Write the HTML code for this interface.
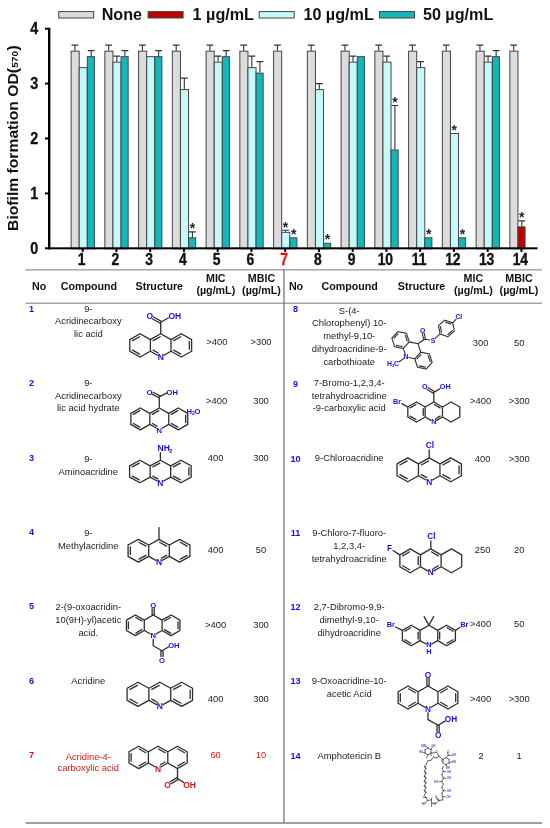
<!DOCTYPE html>
<html lang="en"><head><meta charset="utf-8"><title>Biofilm formation and acridine compounds</title>
<style>
html,body{margin:0;padding:0;background:#fff;}
body{width:550px;height:828px;overflow:hidden;}
svg{display:block;font-family:"Liberation Sans",Arial,Helvetica,sans-serif;}
</style></head><body>
<svg width="550" height="828" viewBox="0 0 550 828">
<rect width="550" height="828" fill="#fff"/>
<g id="chart">
<rect x="71.1" y="51.16" width="8.1" height="197.64" fill="#dcdcdc" stroke="#444444" stroke-width="1"/>
<rect x="79.2" y="67.63" width="8.1" height="181.17" fill="#c6f9fa" stroke="#444444" stroke-width="1"/>
<rect x="87.3" y="56.65" width="7.1" height="192.15" fill="#10b8bc" stroke="#444444" stroke-width="1"/>
<path d="M74.95 50.66V45.17M71.55 45.17H78.35" stroke="#333" stroke-width="1.1" fill="none"/>
<path d="M91.15 56.15V50.66M87.75 50.66H94.55" stroke="#333" stroke-width="1.1" fill="none"/>
<rect x="104.85" y="51.16" width="8.1" height="197.64" fill="#dcdcdc" stroke="#444444" stroke-width="1"/>
<rect x="112.95" y="62.14" width="8.1" height="186.66" fill="#c6f9fa" stroke="#444444" stroke-width="1"/>
<rect x="121.05" y="56.65" width="7.1" height="192.15" fill="#10b8bc" stroke="#444444" stroke-width="1"/>
<path d="M108.7 50.66V45.17M105.3 45.17H112.1" stroke="#333" stroke-width="1.1" fill="none"/>
<path d="M116.8 61.64V56.15M113.4 56.15H120.2" stroke="#333" stroke-width="1.1" fill="none"/>
<path d="M124.9 56.15V50.66M121.5 50.66H128.3" stroke="#333" stroke-width="1.1" fill="none"/>
<rect x="138.6" y="51.16" width="8.1" height="197.64" fill="#dcdcdc" stroke="#444444" stroke-width="1"/>
<rect x="146.7" y="56.65" width="8.1" height="192.15" fill="#c6f9fa" stroke="#444444" stroke-width="1"/>
<rect x="154.8" y="56.65" width="7.1" height="192.15" fill="#10b8bc" stroke="#444444" stroke-width="1"/>
<path d="M142.45 50.66V45.17M139.05 45.17H145.85" stroke="#333" stroke-width="1.1" fill="none"/>
<path d="M158.65 56.15V50.66M155.25 50.66H162.05" stroke="#333" stroke-width="1.1" fill="none"/>
<rect x="172.35" y="51.16" width="8.1" height="197.64" fill="#dcdcdc" stroke="#444444" stroke-width="1"/>
<rect x="180.45" y="89.59" width="8.1" height="159.21" fill="#c6f9fa" stroke="#444444" stroke-width="1"/>
<rect x="188.55" y="237.82" width="7.1" height="10.98" fill="#10b8bc" stroke="#444444" stroke-width="1"/>
<path d="M176.2 50.66V45.17M172.8 45.17H179.6" stroke="#333" stroke-width="1.1" fill="none"/>
<path d="M184.3 89.09V78.11M180.9 78.11H187.7" stroke="#333" stroke-width="1.1" fill="none"/>
<path d="M192.4 237.32V231.83M189 231.83H195.8" stroke="#333" stroke-width="1.1" fill="none"/>
<text x="192.4" y="233.43" font-size="14" font-weight="bold" text-anchor="middle" fill="#222">*</text>
<rect x="206.1" y="51.16" width="8.1" height="197.64" fill="#dcdcdc" stroke="#444444" stroke-width="1"/>
<rect x="214.2" y="62.14" width="8.1" height="186.66" fill="#c6f9fa" stroke="#444444" stroke-width="1"/>
<rect x="222.3" y="56.65" width="7.1" height="192.15" fill="#10b8bc" stroke="#444444" stroke-width="1"/>
<path d="M209.95 50.66V45.17M206.55 45.17H213.35" stroke="#333" stroke-width="1.1" fill="none"/>
<path d="M218.05 61.64V56.15M214.65 56.15H221.45" stroke="#333" stroke-width="1.1" fill="none"/>
<path d="M226.15 56.15V50.66M222.75 50.66H229.55" stroke="#333" stroke-width="1.1" fill="none"/>
<rect x="239.85" y="51.16" width="8.1" height="197.64" fill="#dcdcdc" stroke="#444444" stroke-width="1"/>
<rect x="247.95" y="67.63" width="8.1" height="181.17" fill="#c6f9fa" stroke="#444444" stroke-width="1"/>
<rect x="256.05" y="73.12" width="7.1" height="175.68" fill="#10b8bc" stroke="#444444" stroke-width="1"/>
<path d="M243.7 50.66V45.17M240.3 45.17H247.1" stroke="#333" stroke-width="1.1" fill="none"/>
<path d="M251.8 67.13V56.15M248.4 56.15H255.2" stroke="#333" stroke-width="1.1" fill="none"/>
<path d="M259.9 72.62V61.64M256.5 61.64H263.3" stroke="#333" stroke-width="1.1" fill="none"/>
<rect x="273.6" y="51.16" width="8.1" height="197.64" fill="#dcdcdc" stroke="#444444" stroke-width="1"/>
<rect x="281.7" y="232.33" width="8.1" height="16.47" fill="#c6f9fa" stroke="#444444" stroke-width="1"/>
<rect x="289.8" y="237.82" width="7.1" height="10.98" fill="#10b8bc" stroke="#444444" stroke-width="1"/>
<path d="M277.45 50.66V45.17M274.05 45.17H280.85" stroke="#333" stroke-width="1.1" fill="none"/>
<path d="M285.55 231.83V230.18M282.15 230.18H288.95" stroke="#333" stroke-width="1.1" fill="none"/>
<text x="285.55" y="231.78" font-size="14" font-weight="bold" text-anchor="middle" fill="#222">*</text>
<text x="293.65" y="238.92" font-size="14" font-weight="bold" text-anchor="middle" fill="#222">*</text>
<rect x="307.35" y="51.16" width="8.1" height="197.64" fill="#dcdcdc" stroke="#444444" stroke-width="1"/>
<rect x="315.45" y="89.59" width="8.1" height="159.21" fill="#c6f9fa" stroke="#444444" stroke-width="1"/>
<rect x="323.55" y="243.31" width="7.1" height="5.49" fill="#10b8bc" stroke="#444444" stroke-width="1"/>
<path d="M311.2 50.66V45.17M307.8 45.17H314.6" stroke="#333" stroke-width="1.1" fill="none"/>
<path d="M319.3 89.09V83.6M315.9 83.6H322.7" stroke="#333" stroke-width="1.1" fill="none"/>
<text x="327.4" y="244.41" font-size="14" font-weight="bold" text-anchor="middle" fill="#222">*</text>
<rect x="341.1" y="51.16" width="8.1" height="197.64" fill="#dcdcdc" stroke="#444444" stroke-width="1"/>
<rect x="349.2" y="62.14" width="8.1" height="186.66" fill="#c6f9fa" stroke="#444444" stroke-width="1"/>
<rect x="357.3" y="56.65" width="7.1" height="192.15" fill="#10b8bc" stroke="#444444" stroke-width="1"/>
<path d="M344.95 50.66V45.17M341.55 45.17H348.35" stroke="#333" stroke-width="1.1" fill="none"/>
<path d="M353.05 61.64V56.15M349.65 56.15H356.45" stroke="#333" stroke-width="1.1" fill="none"/>
<rect x="374.85" y="51.16" width="8.1" height="197.64" fill="#dcdcdc" stroke="#444444" stroke-width="1"/>
<rect x="382.95" y="62.14" width="8.1" height="186.66" fill="#c6f9fa" stroke="#444444" stroke-width="1"/>
<rect x="391.05" y="149.98" width="7.1" height="98.82" fill="#10b8bc" stroke="#444444" stroke-width="1"/>
<path d="M378.7 50.66V45.17M375.3 45.17H382.1" stroke="#333" stroke-width="1.1" fill="none"/>
<path d="M386.8 61.64V56.15M383.4 56.15H390.2" stroke="#333" stroke-width="1.1" fill="none"/>
<path d="M394.9 149.48V105.56M391.5 105.56H398.3" stroke="#333" stroke-width="1.1" fill="none"/>
<text x="394.9" y="107.16" font-size="14" font-weight="bold" text-anchor="middle" fill="#222">*</text>
<rect x="408.6" y="51.16" width="8.1" height="197.64" fill="#dcdcdc" stroke="#444444" stroke-width="1"/>
<rect x="416.7" y="67.63" width="8.1" height="181.17" fill="#c6f9fa" stroke="#444444" stroke-width="1"/>
<rect x="424.8" y="237.82" width="7.1" height="10.98" fill="#10b8bc" stroke="#444444" stroke-width="1"/>
<path d="M412.45 50.66V45.17M409.05 45.17H415.85" stroke="#333" stroke-width="1.1" fill="none"/>
<path d="M420.55 67.13V61.64M417.15 61.64H423.95" stroke="#333" stroke-width="1.1" fill="none"/>
<text x="428.65" y="238.92" font-size="14" font-weight="bold" text-anchor="middle" fill="#222">*</text>
<rect x="442.35" y="51.16" width="8.1" height="197.64" fill="#dcdcdc" stroke="#444444" stroke-width="1"/>
<rect x="450.45" y="133.51" width="8.1" height="115.29" fill="#c6f9fa" stroke="#444444" stroke-width="1"/>
<rect x="458.55" y="237.82" width="7.1" height="10.98" fill="#10b8bc" stroke="#444444" stroke-width="1"/>
<path d="M446.2 50.66V45.17M442.8 45.17H449.6" stroke="#333" stroke-width="1.1" fill="none"/>
<text x="454.3" y="134.61" font-size="14" font-weight="bold" text-anchor="middle" fill="#222">*</text>
<text x="462.4" y="238.92" font-size="14" font-weight="bold" text-anchor="middle" fill="#222">*</text>
<rect x="476.1" y="51.16" width="8.1" height="197.64" fill="#dcdcdc" stroke="#444444" stroke-width="1"/>
<rect x="484.2" y="62.14" width="8.1" height="186.66" fill="#c6f9fa" stroke="#444444" stroke-width="1"/>
<rect x="492.3" y="56.65" width="7.1" height="192.15" fill="#10b8bc" stroke="#444444" stroke-width="1"/>
<path d="M479.95 50.66V45.17M476.55 45.17H483.35" stroke="#333" stroke-width="1.1" fill="none"/>
<path d="M488.05 61.64V56.15M484.65 56.15H491.45" stroke="#333" stroke-width="1.1" fill="none"/>
<path d="M496.15 56.15V50.66M492.75 50.66H499.55" stroke="#333" stroke-width="1.1" fill="none"/>
<rect x="509.85" y="51.16" width="8.1" height="197.64" fill="#dcdcdc" stroke="#444444" stroke-width="1"/>
<rect x="517.95" y="226.84" width="7.1" height="21.96" fill="#c00000" stroke="#444444" stroke-width="1"/>
<path d="M513.7 50.66V45.17M510.3 45.17H517.1" stroke="#333" stroke-width="1.1" fill="none"/>
<path d="M521.8 226.34V220.85M518.4 220.85H525.2" stroke="#333" stroke-width="1.1" fill="none"/>
<text x="521.8" y="222.45" font-size="14" font-weight="bold" text-anchor="middle" fill="#222">*</text>
<rect x="48" y="27.8" width="2.4" height="221.5" fill="#000"/>
<rect x="48" y="247.3" width="489.5" height="2" fill="#000"/>
<rect x="45" y="247.3" width="4" height="2" fill="#000"/>
<text transform="translate(38.2,253.8) scale(0.9,1)" font-size="16" stroke="#111" stroke-width="0.3" font-weight="bold" text-anchor="end" fill="#111">0</text>
<rect x="45" y="192.4" width="4" height="2" fill="#000"/>
<text transform="translate(38.2,198.9) scale(0.9,1)" font-size="16" stroke="#111" stroke-width="0.3" font-weight="bold" text-anchor="end" fill="#111">1</text>
<rect x="45" y="137.5" width="4" height="2" fill="#000"/>
<text transform="translate(38.2,144) scale(0.9,1)" font-size="16" stroke="#111" stroke-width="0.3" font-weight="bold" text-anchor="end" fill="#111">2</text>
<rect x="45" y="82.6" width="4" height="2" fill="#000"/>
<text transform="translate(38.2,89.1) scale(0.9,1)" font-size="16" stroke="#111" stroke-width="0.3" font-weight="bold" text-anchor="end" fill="#111">3</text>
<rect x="45" y="27.7" width="4" height="2" fill="#000"/>
<text transform="translate(38.2,34.2) scale(0.9,1)" font-size="16" stroke="#111" stroke-width="0.3" font-weight="bold" text-anchor="end" fill="#111">4</text>
<rect x="81.7" y="248.3" width="2" height="3.6" fill="#000"/>
<text transform="translate(81.6,264.8) scale(0.88,1)" font-size="15.8" font-weight="bold" text-anchor="middle" fill="#111" stroke="#111" stroke-width="0.35">1</text>
<rect x="115.45" y="248.3" width="2" height="3.6" fill="#000"/>
<text transform="translate(115.35,264.8) scale(0.88,1)" font-size="15.8" font-weight="bold" text-anchor="middle" fill="#111" stroke="#111" stroke-width="0.35">2</text>
<rect x="149.2" y="248.3" width="2" height="3.6" fill="#000"/>
<text transform="translate(149.1,264.8) scale(0.88,1)" font-size="15.8" font-weight="bold" text-anchor="middle" fill="#111" stroke="#111" stroke-width="0.35">3</text>
<rect x="182.95" y="248.3" width="2" height="3.6" fill="#000"/>
<text transform="translate(182.85,264.8) scale(0.88,1)" font-size="15.8" font-weight="bold" text-anchor="middle" fill="#111" stroke="#111" stroke-width="0.35">4</text>
<rect x="216.7" y="248.3" width="2" height="3.6" fill="#000"/>
<text transform="translate(216.6,264.8) scale(0.88,1)" font-size="15.8" font-weight="bold" text-anchor="middle" fill="#111" stroke="#111" stroke-width="0.35">5</text>
<rect x="250.45" y="248.3" width="2" height="3.6" fill="#000"/>
<text transform="translate(250.35,264.8) scale(0.88,1)" font-size="15.8" font-weight="bold" text-anchor="middle" fill="#111" stroke="#111" stroke-width="0.35">6</text>
<rect x="284.2" y="248.3" width="2" height="3.6" fill="#000"/>
<text transform="translate(284.1,264.8) scale(0.88,1)" font-size="15.8" font-weight="bold" text-anchor="middle" fill="#f01010" stroke="#f01010" stroke-width="0.35">7</text>
<rect x="317.95" y="248.3" width="2" height="3.6" fill="#000"/>
<text transform="translate(317.85,264.8) scale(0.88,1)" font-size="15.8" font-weight="bold" text-anchor="middle" fill="#111" stroke="#111" stroke-width="0.35">8</text>
<rect x="351.7" y="248.3" width="2" height="3.6" fill="#000"/>
<text transform="translate(351.6,264.8) scale(0.88,1)" font-size="15.8" font-weight="bold" text-anchor="middle" fill="#111" stroke="#111" stroke-width="0.35">9</text>
<rect x="385.45" y="248.3" width="2" height="3.6" fill="#000"/>
<text transform="translate(385.35,264.8) scale(0.88,1)" font-size="15.8" font-weight="bold" text-anchor="middle" fill="#111" stroke="#111" stroke-width="0.35">10</text>
<rect x="419.2" y="248.3" width="2" height="3.6" fill="#000"/>
<text transform="translate(419.1,264.8) scale(0.88,1)" font-size="15.8" font-weight="bold" text-anchor="middle" fill="#111" stroke="#111" stroke-width="0.35">11</text>
<rect x="452.95" y="248.3" width="2" height="3.6" fill="#000"/>
<text transform="translate(452.85,264.8) scale(0.88,1)" font-size="15.8" font-weight="bold" text-anchor="middle" fill="#111" stroke="#111" stroke-width="0.35">12</text>
<rect x="486.7" y="248.3" width="2" height="3.6" fill="#000"/>
<text transform="translate(486.6,264.8) scale(0.88,1)" font-size="15.8" font-weight="bold" text-anchor="middle" fill="#111" stroke="#111" stroke-width="0.35">13</text>
<rect x="520.45" y="248.3" width="2" height="3.6" fill="#000"/>
<text transform="translate(520.35,264.8) scale(0.88,1)" font-size="15.8" font-weight="bold" text-anchor="middle" fill="#111" stroke="#111" stroke-width="0.35">14</text>
<rect x="58.7" y="11.6" width="35" height="6.4" fill="#dcdcdc" stroke="#444" stroke-width="1"/>
<text transform="translate(101.7,19.9) scale(1.03,1)" font-size="15.7" font-weight="bold" fill="#111">None</text>
<rect x="148.1" y="11.6" width="35" height="6.4" fill="#c00000" stroke="#444" stroke-width="1"/>
<text transform="translate(192.6,19.9) scale(1.03,1)" font-size="15.7" font-weight="bold" fill="#111">1 µg/mL</text>
<rect x="259.2" y="11.6" width="35" height="6.4" fill="#c6f9fa" stroke="#444" stroke-width="1"/>
<text transform="translate(303.4,19.9) scale(1.03,1)" font-size="15.7" font-weight="bold" fill="#111">10 µg/mL</text>
<rect x="379.5" y="11.6" width="35" height="6.4" fill="#10b8bc" stroke="#444" stroke-width="1"/>
<text transform="translate(422.9,19.9) scale(1.03,1)" font-size="15.7" font-weight="bold" fill="#111">50 µg/mL</text>
<g transform="translate(17.6,230.9) rotate(-90) scale(1.112,1)" font-weight="bold" fill="#111">
<text x="0" y="0" font-size="14.1">Biofilm formation OD(</text>
<text x="146.77" y="0" font-size="9">570</text>
<text x="162.28" y="0" font-size="14.1">)</text>
</g>
</g>
<g id="table">
<rect x="25.5" y="269.2" width="516.5" height="1.3" fill="#9a9a9a"/>
<rect x="25.5" y="302.6" width="516.5" height="1.3" fill="#9a9a9a"/>
<rect x="25.5" y="822.3" width="516.5" height="1.4" fill="#777"/>
<rect x="283.3" y="269" width="1.3" height="554" fill="#777"/>
<g font-size="10.7" font-weight="bold" fill="#111">
<text x="32" y="290.4">No</text>
<text x="60.7" y="290.4">Compound</text>
<text x="135.5" y="290.4">Structure</text>
<text x="215.8" y="281.7" text-anchor="middle">MIC</text>
<text x="215.8" y="293.6" text-anchor="middle">(µg/mL)</text>
<text x="261.5" y="281.7" text-anchor="middle">MBIC</text>
<text x="261.5" y="293.6" text-anchor="middle">(µg/mL)</text>
</g>
<g font-size="10.7" font-weight="bold" fill="#111">
<text x="288.9" y="290.4">No</text>
<text x="321.5" y="290.4">Compound</text>
<text x="397.8" y="290.4">Structure</text>
<text x="473.4" y="281.7" text-anchor="middle">MIC</text>
<text x="473.4" y="293.6" text-anchor="middle">(µg/mL)</text>
<text x="519" y="281.7" text-anchor="middle">MBIC</text>
<text x="519" y="293.6" text-anchor="middle">(µg/mL)</text>
</g>
<text x="31.6" y="312.2" font-size="9.1" font-weight="bold" text-anchor="middle" fill="#1010f8">1</text>
<text x="88.3" y="312.3" font-size="9.4" text-anchor="middle" fill="#1c1c1c">9-</text>
<text x="88.3" y="324.3" font-size="9.4" text-anchor="middle" fill="#1c1c1c">Acridinecarboxy</text>
<text x="88.3" y="336.5" font-size="9.4" text-anchor="middle" fill="#1c1c1c">lic acid</text>
<text x="216.8" y="345.4" font-size="9.4" text-anchor="middle" fill="#1c1c1c">&gt;400</text>
<text x="261" y="345.4" font-size="9.4" text-anchor="middle" fill="#1c1c1c">&gt;300</text>
<text x="31.6" y="386" font-size="9.1" font-weight="bold" text-anchor="middle" fill="#1010f8">2</text>
<text x="88.3" y="386" font-size="9.4" text-anchor="middle" fill="#1c1c1c">9-</text>
<text x="88.3" y="398.7" font-size="9.4" text-anchor="middle" fill="#1c1c1c">Acridinecarboxy</text>
<text x="88.3" y="411" font-size="9.4" text-anchor="middle" fill="#1c1c1c">lic acid hydrate</text>
<text x="216.6" y="404.3" font-size="9.4" text-anchor="middle" fill="#1c1c1c">&gt;400</text>
<text x="261" y="404.3" font-size="9.4" text-anchor="middle" fill="#1c1c1c">300</text>
<text x="31.6" y="461" font-size="9.1" font-weight="bold" text-anchor="middle" fill="#1010f8">3</text>
<text x="88.3" y="462.3" font-size="9.4" text-anchor="middle" fill="#1c1c1c">9-</text>
<text x="88.3" y="475.1" font-size="9.4" text-anchor="middle" fill="#1c1c1c">Aminoacridine</text>
<text x="215.6" y="461.2" font-size="9.4" text-anchor="middle" fill="#1c1c1c">400</text>
<text x="261" y="461.2" font-size="9.4" text-anchor="middle" fill="#1c1c1c">300</text>
<text x="31.6" y="535.3" font-size="9.1" font-weight="bold" text-anchor="middle" fill="#1010f8">4</text>
<text x="88.3" y="536.2" font-size="9.4" text-anchor="middle" fill="#1c1c1c">9-</text>
<text x="88.3" y="548.9" font-size="9.4" text-anchor="middle" fill="#1c1c1c">Methylacridine</text>
<text x="215.6" y="552.9" font-size="9.4" text-anchor="middle" fill="#1c1c1c">400</text>
<text x="261" y="552.9" font-size="9.4" text-anchor="middle" fill="#1c1c1c">50</text>
<text x="31.6" y="609.4" font-size="9.1" font-weight="bold" text-anchor="middle" fill="#1010f8">5</text>
<text x="88.3" y="610" font-size="9.4" text-anchor="middle" fill="#1c1c1c">2-(9-oxoacridin-</text>
<text x="88.3" y="623" font-size="9.4" text-anchor="middle" fill="#1c1c1c">10(9H)-yl)acetic</text>
<text x="88.3" y="636.2" font-size="9.4" text-anchor="middle" fill="#1c1c1c">acid.</text>
<text x="215.6" y="627.7" font-size="9.4" text-anchor="middle" fill="#1c1c1c">&gt;400</text>
<text x="261" y="627.7" font-size="9.4" text-anchor="middle" fill="#1c1c1c">300</text>
<text x="31.6" y="683.6" font-size="9.1" font-weight="bold" text-anchor="middle" fill="#1010f8">6</text>
<text x="88.3" y="684.4" font-size="9.4" text-anchor="middle" fill="#1c1c1c">Acridine</text>
<text x="215.6" y="701.6" font-size="9.4" text-anchor="middle" fill="#1c1c1c">400</text>
<text x="261" y="701.6" font-size="9.4" text-anchor="middle" fill="#1c1c1c">300</text>
<text x="31.6" y="757.9" font-size="9.1" font-weight="bold" text-anchor="middle" fill="#de1616">7</text>
<text x="88.3" y="759.5" font-size="9.4" text-anchor="middle" fill="#de1616">Acridine-4-</text>
<text x="88.3" y="771.4" font-size="9.4" text-anchor="middle" fill="#de1616">carboxylic acid</text>
<text x="215.6" y="758.1" font-size="9.4" text-anchor="middle" fill="#de1616">60</text>
<text x="261" y="758.1" font-size="9.4" text-anchor="middle" fill="#de1616">10</text>
<text x="295.5" y="312.2" font-size="9.1" font-weight="bold" text-anchor="middle" fill="#1010f8">8</text>
<text x="349.2" y="313.6" font-size="9.4" text-anchor="middle" fill="#1c1c1c">S-(4-</text>
<text x="349.2" y="326.3" font-size="9.4" text-anchor="middle" fill="#1c1c1c">Chlorophenyl) 10-</text>
<text x="349.2" y="339" font-size="9.4" text-anchor="middle" fill="#1c1c1c">methyl-9,10-</text>
<text x="349.2" y="351.8" font-size="9.4" text-anchor="middle" fill="#1c1c1c">dihydroacridine-9-</text>
<text x="349.2" y="365" font-size="9.4" text-anchor="middle" fill="#1c1c1c">carbothioate</text>
<text x="480.6" y="345.5" font-size="9.4" text-anchor="middle" fill="#1c1c1c">300</text>
<text x="519.2" y="345.5" font-size="9.4" text-anchor="middle" fill="#1c1c1c">50</text>
<text x="295.5" y="387.2" font-size="9.1" font-weight="bold" text-anchor="middle" fill="#1010f8">9</text>
<text x="349.2" y="386" font-size="9.4" text-anchor="middle" fill="#1c1c1c">7-Bromo-1,2,3,4-</text>
<text x="349.2" y="398.7" font-size="9.4" text-anchor="middle" fill="#1c1c1c">tetrahydroacridine</text>
<text x="349.2" y="411" font-size="9.4" text-anchor="middle" fill="#1c1c1c">-9-carboxylic acid</text>
<text x="480.6" y="404.3" font-size="9.4" text-anchor="middle" fill="#1c1c1c">&gt;400</text>
<text x="519.2" y="404.3" font-size="9.4" text-anchor="middle" fill="#1c1c1c">&gt;300</text>
<text x="295.5" y="461.7" font-size="9.1" font-weight="bold" text-anchor="middle" fill="#1010f8">10</text>
<text x="349.2" y="461.1" font-size="9.4" text-anchor="middle" fill="#1c1c1c">9-Chloroacridine</text>
<text x="482.6" y="461.5" font-size="9.4" text-anchor="middle" fill="#1c1c1c">400</text>
<text x="519.2" y="461.5" font-size="9.4" text-anchor="middle" fill="#1c1c1c">&gt;300</text>
<text x="295.5" y="536.1" font-size="9.1" font-weight="bold" text-anchor="middle" fill="#1010f8">11</text>
<text x="349.2" y="536.2" font-size="9.4" text-anchor="middle" fill="#1c1c1c">9-Chloro-7-fluoro-</text>
<text x="349.2" y="548.9" font-size="9.4" text-anchor="middle" fill="#1c1c1c">1,2,3,4-</text>
<text x="349.2" y="561.6" font-size="9.4" text-anchor="middle" fill="#1c1c1c">tetrahydroacridine</text>
<text x="482.6" y="553.4" font-size="9.4" text-anchor="middle" fill="#1c1c1c">250</text>
<text x="519.2" y="553.4" font-size="9.4" text-anchor="middle" fill="#1c1c1c">20</text>
<text x="295.5" y="609.9" font-size="9.1" font-weight="bold" text-anchor="middle" fill="#1010f8">12</text>
<text x="349.2" y="610" font-size="9.4" text-anchor="middle" fill="#1c1c1c">2,7-Dibromo-9,9-</text>
<text x="349.2" y="623.2" font-size="9.4" text-anchor="middle" fill="#1c1c1c">dimethyl-9,10-</text>
<text x="349.2" y="636.2" font-size="9.4" text-anchor="middle" fill="#1c1c1c">dihydroacridine</text>
<text x="480.6" y="627.3" font-size="9.4" text-anchor="middle" fill="#1c1c1c">&gt;400</text>
<text x="519.2" y="627.3" font-size="9.4" text-anchor="middle" fill="#1c1c1c">50</text>
<text x="295.5" y="684.3" font-size="9.1" font-weight="bold" text-anchor="middle" fill="#1010f8">13</text>
<text x="349.2" y="684.4" font-size="9.4" text-anchor="middle" fill="#1c1c1c">9-Oxoacridine-10-</text>
<text x="349.2" y="696.9" font-size="9.4" text-anchor="middle" fill="#1c1c1c">acetic Acid</text>
<text x="480.6" y="701.8" font-size="9.4" text-anchor="middle" fill="#1c1c1c">&gt;400</text>
<text x="519.2" y="701.8" font-size="9.4" text-anchor="middle" fill="#1c1c1c">&gt;300</text>
<text x="295.5" y="758.6" font-size="9.1" font-weight="bold" text-anchor="middle" fill="#1010f8">14</text>
<text x="349.2" y="758.7" font-size="9.4" text-anchor="middle" fill="#1c1c1c">Amphotericin B</text>
<text x="481" y="758.9" font-size="9.4" text-anchor="middle" fill="#1c1c1c">2</text>
<text x="519.2" y="758.9" font-size="9.4" text-anchor="middle" fill="#1c1c1c">1</text>
</g>
<g id="mols">
<path d="M140.09 333.8L150.39 339.6M150.39 351.2L140.09 357M140.09 357L129.78 351.2M129.78 351.2L129.78 339.6M129.78 339.6L140.09 333.8M160.7 333.8L171.01 339.6M171.01 339.6L171.01 351.2M171.01 351.2L163.84 355.24M157.56 355.24L150.39 351.2M150.39 351.2L150.39 339.6M150.39 339.6L160.7 333.8M181.31 333.8L191.62 339.6M191.62 339.6L191.62 351.2M191.62 351.2L181.31 357M181.31 357L171.01 351.2M171.01 339.6L181.31 333.8M132.54 340.64L139.55 336.7M139.55 354.1L132.54 350.16M153.15 340.64L160.16 336.7M158.28 353.04L153.15 350.16M173.76 340.64L180.77 336.7M189.36 341.46L189.36 349.34M180.77 354.1L173.76 350.16M160.7 333.8L160.7 322.3M161.24 321.34L153.67 317.03M160.16 323.26L152.58 318.94M160.7 322.3L168.27 317.98" stroke="#2e2e2e" stroke-width="1.3" fill="none" stroke-linecap="round"/><text x="160.7" y="360.36" font-size="8.5" font-weight="bold" text-anchor="middle" fill="#1010f8">N</text><text x="149.8" y="319.36" font-size="8.5" font-weight="bold" text-anchor="middle" fill="#1010f8">O</text><text x="168.4" y="319.36" font-size="8.5" font-weight="bold" text-anchor="start" fill="#1010f8">OH</text>
<path d="M140.33 407.95L149.82 413.42M149.82 424.38L140.33 429.85M140.33 429.85L130.85 424.38M130.85 424.38L130.85 413.42M130.85 413.42L140.33 407.95M159.3 407.95L168.78 413.42M168.78 413.42L168.78 424.38M168.78 424.38L162.42 428.05M156.18 428.05L149.82 424.38M149.82 424.38L149.82 413.42M149.82 413.42L159.3 407.95M178.27 407.95L187.75 413.42M187.75 413.42L187.75 424.38M187.75 424.38L178.27 429.85M178.27 429.85L168.78 424.38M168.78 413.42L178.27 407.95M133.41 414.35L139.86 410.63M139.86 427.17L133.41 423.45M152.37 414.35L158.82 410.63M156.95 426.09L152.37 423.45M171.34 414.35L177.79 410.63M185.67 415.18L185.67 422.62M177.79 427.17L171.34 423.45M159.3 407.95L159.3 396.8M159.8 395.87L153.09 392.28M158.8 397.73L152.1 394.13M159.3 396.8L166.55 393.06" stroke="#2e2e2e" stroke-width="1.3" fill="none" stroke-linecap="round"/><text x="159.3" y="432.64" font-size="7.6" font-weight="bold" text-anchor="middle" fill="#1010f8">N</text><text x="149.5" y="394.54" font-size="7.6" font-weight="bold" text-anchor="middle" fill="#1010f8">O</text><text x="166.6" y="394.54" font-size="7.6" font-weight="bold" text-anchor="start" fill="#1010f8">OH</text><text x="186.4" y="413.94" font-size="7.6" font-weight="bold" text-anchor="start" fill="#1010f8">H</text><text x="192.1" y="415.2" font-size="5" font-weight="bold" text-anchor="start" fill="#1010f8">2</text><text x="194.6" y="413.94" font-size="7.6" font-weight="bold" text-anchor="start" fill="#1010f8">O</text>
<path d="M139.88 460.24L150.14 465.87M150.14 477.13L139.88 482.76M139.88 482.76L129.61 477.13M129.61 477.13L129.61 465.87M129.61 465.87L139.88 460.24M160.4 460.24L170.66 465.87M170.66 465.87L170.66 477.13M170.66 477.13L163.56 481.03M157.24 481.03L150.14 477.13M150.14 477.13L150.14 465.87M150.14 465.87L160.4 460.24M180.92 460.24L191.19 465.87M191.19 465.87L191.19 477.13M191.19 477.13L180.92 482.76M180.92 482.76L170.66 477.13M170.66 465.87L180.92 460.24M132.34 466.94L139.32 463.12M139.32 479.88L132.34 476.06M152.86 466.94L159.84 463.12M157.95 478.84L152.86 476.06M173.39 466.94L180.37 463.12M188.94 467.67L188.94 475.33M180.37 479.88L173.39 476.06M160.4 460.24L160.4 452.7" stroke="#2e2e2e" stroke-width="1.3" fill="none" stroke-linecap="round"/><text x="160.4" y="485.56" font-size="8.5" font-weight="bold" text-anchor="middle" fill="#1010f8">N</text><text x="157.5" y="451.36" font-size="8.5" font-weight="bold" text-anchor="start" fill="#1010f8">NH</text><text x="169.2" y="452.98" font-size="5.5" font-weight="bold" text-anchor="start" fill="#1010f8">2</text>
<path d="M138.39 539.34L148.69 545.02M148.69 556.38L138.39 562.06M138.39 562.06L128.08 556.38M128.08 556.38L128.08 545.02M128.08 545.02L138.39 539.34M159 539.34L169.31 545.02M169.31 545.02L169.31 556.38M169.31 556.38L162.15 560.33M155.85 560.33L148.69 556.38M148.69 556.38L148.69 545.02M148.69 545.02L159 539.34M179.61 539.34L189.92 545.02M189.92 545.02L189.92 556.38M189.92 556.38L179.61 562.06M179.61 562.06L169.31 556.38M169.31 545.02L179.61 539.34M180.17 542.22L187.18 546.09M187.18 555.31L180.17 559.18M159.56 542.22L166.57 546.09M166.57 555.31L161.45 558.13M138.95 542.22L145.95 546.09M130.34 554.56L130.34 546.84M145.95 555.31L138.95 559.18M159 539.34L159 527.6" stroke="#2e2e2e" stroke-width="1.3" fill="none" stroke-linecap="round"/><text x="159" y="564.96" font-size="8.5" font-weight="bold" text-anchor="middle" fill="#1010f8">N</text>
<path d="M135.36 615L144.28 620.15M144.28 630.45L135.36 635.6M135.36 635.6L126.44 630.45M126.44 630.45L126.44 620.15M126.44 620.15L135.36 615M153.2 615L162.12 620.15M162.12 620.15L162.12 630.45M162.12 630.45L156.32 633.8M150.08 633.8L144.28 630.45M144.28 630.45L144.28 620.15M144.28 620.15L153.2 615M171.04 615L179.96 620.15M179.96 620.15L179.96 630.45M179.96 630.45L171.04 635.6M171.04 635.6L162.12 630.45M162.12 620.15L171.04 615M128.4 628.8L128.4 621.8M135.81 617.52L141.87 621.02M141.87 629.58L135.81 633.08M164.53 621.02L170.59 617.52M178 621.8L178 628.8M170.59 633.08L164.53 629.58M154.25 615L154.25 608.5M152.15 615L152.15 608.5M153.2 639.2L153.2 645.8M153.2 645.8L162 650.8M162 650.8L168.43 646.94M160.95 650.8L160.95 656.6M163.05 650.8L163.05 656.6" stroke="#2e2e2e" stroke-width="1.3" fill="none" stroke-linecap="round"/><text x="153.2" y="638.34" font-size="7.6" font-weight="bold" text-anchor="middle" fill="#1010f8">N</text><text x="153.2" y="607.64" font-size="7.6" font-weight="bold" text-anchor="middle" fill="#1010f8">O</text><text x="168.2" y="647.74" font-size="7.6" font-weight="bold" text-anchor="start" fill="#1010f8">OH</text><text x="161.9" y="662.94" font-size="7.6" font-weight="bold" text-anchor="middle" fill="#1010f8">O</text>
<path d="M137.98 682.27L148.89 688.28M148.89 700.32L137.98 706.33M137.98 706.33L127.06 700.32M127.06 700.32L127.06 688.28M127.06 688.28L137.98 682.27M159.8 682.27L170.71 688.28M170.71 688.28L170.71 700.32M170.71 700.32L162.95 704.59M156.65 704.59L148.89 700.32M148.89 700.32L148.89 688.28M148.89 688.28L159.8 682.27M181.62 682.27L192.54 688.28M192.54 688.28L192.54 700.32M192.54 700.32L181.62 706.33M181.62 706.33L170.71 700.32M170.71 688.28L181.62 682.27M129.97 689.42L137.39 685.33M137.39 703.27L129.97 699.18M151.79 689.42L159.21 685.33M157.32 702.23L151.79 699.18M173.61 689.42L181.03 685.33M190.14 690.21L190.14 698.39M181.03 703.27L173.61 699.18" stroke="#2e2e2e" stroke-width="1.3" fill="none" stroke-linecap="round"/><text x="159.8" y="709.36" font-size="8.5" font-weight="bold" text-anchor="middle" fill="#1010f8">N</text>
<path d="M138.7 746.2L148.4 751.8M148.4 763L138.7 768.6M138.7 768.6L129 763M129 763L129 751.8M129 751.8L138.7 746.2M158.1 746.2L167.8 751.8M167.8 751.8L167.8 763M167.8 763L161.22 766.8M154.98 766.8L148.4 763M148.4 763L148.4 751.8M148.4 751.8L158.1 746.2M177.5 746.2L187.2 751.8M187.2 751.8L187.2 763M187.2 763L177.5 768.6M177.5 768.6L167.8 763M167.8 751.8L177.5 746.2M177.99 748.94L184.58 752.75M184.58 762.05L177.99 765.86M158.59 748.94L165.18 752.75M165.18 762.05L160.46 764.78M139.19 748.94L145.78 752.75M131.13 761.21L131.13 753.59M145.78 762.05L139.19 765.86M177.5 768.6L177.5 778.6M176.93 777.66L170.11 781.79M178.07 779.54L171.25 783.67M177.5 778.6L183.73 782.57" stroke="#2e2e2e" stroke-width="1.3" fill="none" stroke-linecap="round"/><text x="158.1" y="771.66" font-size="8.5" font-weight="bold" text-anchor="middle" fill="#de1616">N</text><text x="167.5" y="787.76" font-size="8.5" font-weight="bold" text-anchor="middle" fill="#de1616">O</text><text x="183.2" y="787.76" font-size="8.5" font-weight="bold" text-anchor="start" fill="#de1616">OH</text>
<path d="M406.5 333.37L409.25 341.84M403.29 348.45L394.59 346.6M394.59 346.6L391.84 338.13M391.84 338.13L397.79 331.52M397.79 331.52L406.5 333.37M417.96 343.69L420.71 352.15M420.71 352.15L414.75 358.76M414.75 358.76L408.98 357.54M405.12 354.06L403.29 348.45M403.29 348.45L409.25 341.84M409.25 341.84L417.96 343.69M429.41 354L432.16 362.47M432.16 362.47L426.21 369.08M426.21 369.08L417.5 367.23M417.5 367.23L414.75 358.76M420.71 352.15L429.41 354M405.32 335.25L407.19 341.01M402.26 346.49L396.34 345.23M394.05 338.21L398.1 333.72M428.23 355.88L430.1 361.64M425.17 367.12L419.25 365.86M416.97 358.84L421.02 354.35M417.96 343.69L424.5 339.3M425.43 339.11L424.24 333.35M423.57 339.49L422.38 333.73M424.5 339.3L429.93 340.01M435.12 338.39L440.06 333.91M440.06 333.91L438.46 325.67M438.46 325.67L444.8 320.15M444.8 320.15L452.74 322.89M452.74 322.89L454.34 331.13M454.34 331.13L448 336.65M448 336.65L440.06 333.91M441.47 332.27L440.38 326.66M445.51 322.2L450.92 324.06M452.21 330.73L447.9 334.48M452.74 322.89L455.98 319.31M403.6 358.66L399.2 361.8" stroke="#2e2e2e" stroke-width="1.1" fill="none" stroke-linecap="round"/><text x="406.04" y="359.36" font-size="6.8" font-weight="bold" text-anchor="middle" fill="#1010f8">N</text><text x="422.7" y="332.95" font-size="6.8" font-weight="bold" text-anchor="middle" fill="#1010f8">O</text><text x="432.9" y="342.85" font-size="6.8" font-weight="bold" text-anchor="middle" fill="#1010f8">S</text><text x="458.8" y="318.65" font-size="6.8" font-weight="bold" text-anchor="middle" fill="#1010f8">Cl</text><text x="398.8" y="365.85" font-size="6.8" font-weight="bold" text-anchor="end" fill="#1010f8">C</text><text x="394.4" y="366.71" font-size="4.2" font-weight="bold" text-anchor="end" fill="#1010f8">3</text><text x="392" y="365.85" font-size="6.8" font-weight="bold" text-anchor="end" fill="#1010f8">H</text>
<path d="M416.48 402L425.14 407M425.14 417L416.48 422M416.48 422L407.82 417M407.82 417L407.82 407M407.82 407L416.48 402M433.8 402L442.46 407M442.46 407L442.46 417M442.46 417L436.66 420.35M430.94 420.35L425.14 417M425.14 417L425.14 407M425.14 407L433.8 402M451.12 402L459.78 407M459.78 407L459.78 417M459.78 417L451.12 422M451.12 422L442.46 417M442.46 407L451.12 402M410.15 407.85L416.04 404.45M416.04 419.55L410.15 416.15M423.24 408.6L423.24 415.4M434.24 404.45L440.12 407.85M440.12 416.15L435.95 418.56M433.8 402L433.8 392.4M434.33 391.55L428.23 387.78M433.27 393.25L427.18 389.49M433.8 392.4L440.02 388.73M407.82 407L401.95 403.67" stroke="#2e2e2e" stroke-width="1.3" fill="none" stroke-linecap="round"/><text x="433.8" y="424.19" font-size="7.2" font-weight="bold" text-anchor="middle" fill="#1010f8">N</text><text x="424.8" y="389.49" font-size="7.2" font-weight="bold" text-anchor="middle" fill="#1010f8">O</text><text x="439.8" y="389.49" font-size="7.2" font-weight="bold" text-anchor="start" fill="#1010f8">OH</text><text x="393" y="403.79" font-size="7.2" font-weight="bold" text-anchor="start" fill="#1010f8">Br</text>
<path d="M407.72 457.9L418.46 463.85M418.46 475.75L407.72 481.7M407.72 481.7L396.98 475.75M396.98 475.75L396.98 463.85M396.98 463.85L407.72 457.9M429.2 457.9L439.94 463.85M439.94 463.85L439.94 475.75M439.94 475.75L432.35 479.96M426.05 479.96L418.46 475.75M418.46 475.75L418.46 463.85M418.46 463.85L429.2 457.9M450.68 457.9L461.42 463.85M461.42 463.85L461.42 475.75M461.42 475.75L450.68 481.7M450.68 481.7L439.94 475.75M439.94 463.85L450.68 457.9M399.84 464.96L407.15 460.91M407.15 478.69L399.84 474.64M421.32 464.96L428.62 460.91M426.73 477.64L421.32 474.64M442.8 464.96L450.1 460.91M459.06 465.75L459.06 473.85M450.1 478.69L442.8 474.64M429.2 457.9L429.2 449.8" stroke="#2e2e2e" stroke-width="1.3" fill="none" stroke-linecap="round"/><text x="429.2" y="484.62" font-size="8.4" font-weight="bold" text-anchor="middle" fill="#1010f8">N</text><text x="430" y="448.22" font-size="8.4" font-weight="bold" text-anchor="middle" fill="#1010f8">Cl</text>
<path d="M410.19 548.9L420.49 554.85M420.49 566.75L410.19 572.7M410.19 572.7L399.88 566.75M399.88 566.75L399.88 554.85M399.88 554.85L410.19 548.9M430.8 548.9L441.11 554.85M441.11 554.85L441.11 566.75M441.11 566.75L433.92 570.9M427.68 570.9L420.49 566.75M420.49 566.75L420.49 554.85M420.49 554.85L430.8 548.9M451.41 548.9L461.72 554.85M461.72 554.85L461.72 566.75M461.72 566.75L451.41 572.7M451.41 572.7L441.11 566.75M441.11 554.85L451.41 548.9M402.66 555.86L409.67 551.81M409.67 569.79L402.66 565.74M418.23 556.75L418.23 564.85M431.32 551.81L438.33 555.86M438.33 565.74L433.19 568.71M430.8 548.9L430.8 541M399.88 554.85L392.99 550.53" stroke="#2e2e2e" stroke-width="1.3" fill="none" stroke-linecap="round"/><text x="430.8" y="575.15" font-size="8.2" font-weight="bold" text-anchor="middle" fill="#1010f8">N</text><text x="431.4" y="539.35" font-size="8.2" font-weight="bold" text-anchor="middle" fill="#1010f8">Cl</text><text x="389.4" y="551.25" font-size="8.2" font-weight="bold" text-anchor="middle" fill="#1010f8">F</text>
<path d="M411.23 625.3L420.07 630.4M420.07 640.6L411.23 645.7M411.23 645.7L402.4 640.6M402.4 640.6L402.4 630.4M402.4 630.4L411.23 625.3M428.9 625.3L437.73 630.4M437.73 630.4L437.73 640.6M437.73 640.6L431.76 644.05M426.04 644.05L420.07 640.6M420.07 640.6L420.07 630.4M420.07 630.4L428.9 625.3M446.57 625.3L455.4 630.4M455.4 630.4L455.4 640.6M455.4 640.6L446.57 645.7M446.57 645.7L437.73 640.6M437.73 630.4L446.57 625.3M404.78 631.26L410.79 627.79M410.79 643.21L404.78 639.74M418.13 632.03L418.13 638.97M447.01 627.79L453.02 631.26M453.02 639.74L447.01 643.21M439.67 638.97L439.67 632.03M428.9 625.3L424.2 616.6M428.9 625.3L433.6 616.6M402.4 630.4L395.63 626.96M455.4 630.4L459.86 627.46" stroke="#2e2e2e" stroke-width="1.3" fill="none" stroke-linecap="round"/><text x="428.9" y="647.26" font-size="7.4" font-weight="bold" text-anchor="middle" fill="#1010f8">N</text><text x="428.9" y="654.46" font-size="7.4" font-weight="bold" text-anchor="middle" fill="#1010f8">H</text><text x="390.8" y="627.26" font-size="7.4" font-weight="bold" text-anchor="middle" fill="#1010f8">Br</text><text x="464.4" y="627.26" font-size="7.4" font-weight="bold" text-anchor="middle" fill="#1010f8">Br</text>
<path d="M408.08 686L418.04 691.75M418.04 703.25L408.08 709M408.08 709L398.12 703.25M398.12 703.25L398.12 691.75M398.12 691.75L408.08 686M428 686L437.96 691.75M437.96 691.75L437.96 703.25M437.96 703.25L431.12 707.2M424.88 707.2L418.04 703.25M418.04 703.25L418.04 691.75M418.04 691.75L428 686M447.92 686L457.88 691.75M457.88 691.75L457.88 703.25M457.88 703.25L447.92 709M447.92 709L437.96 703.25M437.96 691.75L447.92 686M400.31 701.41L400.31 693.59M408.58 688.81L415.35 692.72M415.35 702.28L408.58 706.19M440.65 692.72L447.42 688.81M455.69 693.59L455.69 701.41M447.42 706.19L440.65 702.28M429.1 686L429.1 678.5M426.9 686L426.9 678.5M428 712.8L428 719.6M428 719.6L438.1 725.2M438.1 725.2L445.07 721.12M437 725.2L437 731.5M439.2 725.2L439.2 731.5" stroke="#2e2e2e" stroke-width="1.3" fill="none" stroke-linecap="round"/><text x="428" y="711.75" font-size="8.2" font-weight="bold" text-anchor="middle" fill="#1010f8">N</text><text x="428" y="677.55" font-size="8.2" font-weight="bold" text-anchor="middle" fill="#1010f8">O</text><text x="444.8" y="722.15" font-size="8.2" font-weight="bold" text-anchor="start" fill="#1010f8">OH</text><text x="438.1" y="738.15" font-size="8.2" font-weight="bold" text-anchor="middle" fill="#1010f8">O</text>
</g>
<g id="ampho"><path d="M428 747.96L430.94 749.66M430.94 749.66L430.94 753.06M430.94 753.06L428 754.76M428 754.76L425.05 753.06M425.05 753.06L425.05 749.66M425.05 749.66L428 747.96M428 747.96L426.36 746.45M430.94 749.66L432.36 747M425.05 753.06L422.87 752.24M428 754.76L426.36 757.91M430.94 753.06L435.64 752.45M437.27 753L438.91 756.27M438.91 756.27L436.18 757.91M436.18 757.91L433.45 756.82M433.45 756.82L431.27 760.09M431.27 760.09L428 760.64M428 760.64L426.36 763.91M426.36 763.91L424.73 766.64M424.29 766.64L425.6 769.04M425.06 766.37L426.24 768.53M425.6 769.04L424.29 771.44M424.29 771.44L425.6 773.83M425.06 771.17L426.24 773.33M425.6 773.83L424.29 776.23M424.29 776.23L425.6 778.63M425.06 775.97L426.24 778.13M425.6 778.63L424.29 781.03M424.29 781.03L425.6 783.43M425.06 780.77L426.24 782.93M425.6 783.43L424.29 785.83M424.29 785.83L425.6 788.23M425.06 785.57L426.24 787.73M425.6 788.23L424.29 790.63M424.29 790.63L425.6 793.03M425.06 790.37L426.24 792.53M425.6 793.03L424.29 795.43M424.29 795.43L426.36 797.72M426.36 797.72L427.45 800.45M427.45 800.45L431.27 799.91M431.27 799.91L431.82 803.18M431.82 803.18L435.64 803.51M435.64 803.51L438.91 800.45M438.91 800.45L442.73 799.91M442.73 799.91L442.73 796.63M426.36 797.72L423.09 797.18M427.45 800.45L424.73 803.18M431.27 799.91L431.82 797.72M431.82 803.18L431.27 806.45M439.2 800.18L437.02 797.78M438.61 800.72L436.43 798.32M442.73 796.63L441.85 793.91M441.85 793.91L443.27 790.63M443.27 790.63L441.85 787.36M441.85 787.36L443.27 784.09M443.27 784.09L441.85 781.36M441.85 781.36L443.27 778.09M443.27 778.09L441.85 774.82M441.85 774.82L443.27 771.54M443.27 771.54L442.18 768.27M442.18 768.27L443.82 766.09M442.73 796.63L445.33 796.83M443.27 790.63L445.87 790.83M441.85 781.36L439.25 781.56M443.27 778.09L445.87 778.29M443.27 771.54L445.87 771.74M446 757.68L449.03 759.43M449.03 759.43L449.03 762.93M449.03 762.93L446 764.68M446 764.68L442.97 762.93M442.97 762.93L442.97 759.43M442.97 759.43L446 757.68M442.97 759.43L438.91 756.27M446 757.68L448.18 755.18M448.18 755.18L447.63 752.45M448.18 755.18L452 755.4M449.03 762.93L452 761.73M446 764.68L447.09 767.18" stroke="#2e2e2e" stroke-width="0.7" fill="none" stroke-linecap="round"/><text x="423.64" y="746.84" font-size="2.6" font-weight="bold" text-anchor="middle" fill="#3a3af5">H2N</text><text x="433.45" y="746.84" font-size="2.6" font-weight="bold" text-anchor="middle" fill="#3a3af5">OH</text><text x="420.91" y="753.17" font-size="2.6" font-weight="bold" text-anchor="middle" fill="#3a3af5">HO</text><text x="431.27" y="755.57" font-size="2.6" font-weight="bold" text-anchor="middle" fill="#3a3af5">O</text><text x="436.51" y="753.17" font-size="2.6" font-weight="bold" text-anchor="middle" fill="#3a3af5">O</text><text x="423.64" y="804.66" font-size="2.6" font-weight="bold" text-anchor="middle" fill="#3a3af5">HO</text><text x="436.18" y="798.12" font-size="2.6" font-weight="bold" text-anchor="middle" fill="#3a3af5">O</text><text x="434.87" y="804.88" font-size="2.6" font-weight="bold" text-anchor="middle" fill="#3a3af5">O</text><text x="448.33" y="797.97" font-size="2.6" font-weight="bold" text-anchor="middle" fill="#3a3af5">OH</text><text x="448.87" y="791.97" font-size="2.6" font-weight="bold" text-anchor="middle" fill="#3a3af5">OH</text><text x="436.25" y="782.7" font-size="2.6" font-weight="bold" text-anchor="middle" fill="#3a3af5">HO</text><text x="448.87" y="779.43" font-size="2.6" font-weight="bold" text-anchor="middle" fill="#3a3af5">OH</text><text x="448.87" y="772.88" font-size="2.6" font-weight="bold" text-anchor="middle" fill="#3a3af5">OH</text><text x="441.96" y="762.44" font-size="2.6" font-weight="bold" text-anchor="middle" fill="#3a3af5">O</text><text x="448.18" y="752.63" font-size="2.6" font-weight="bold" text-anchor="middle" fill="#3a3af5">O</text><text x="454.18" y="756.34" font-size="2.6" font-weight="bold" text-anchor="middle" fill="#3a3af5">OH</text><text x="453.96" y="762.77" font-size="2.6" font-weight="bold" text-anchor="middle" fill="#3a3af5">OH</text><text x="447.63" y="768.99" font-size="2.6" font-weight="bold" text-anchor="middle" fill="#3a3af5">OH</text></g>
</svg>
</body></html>
